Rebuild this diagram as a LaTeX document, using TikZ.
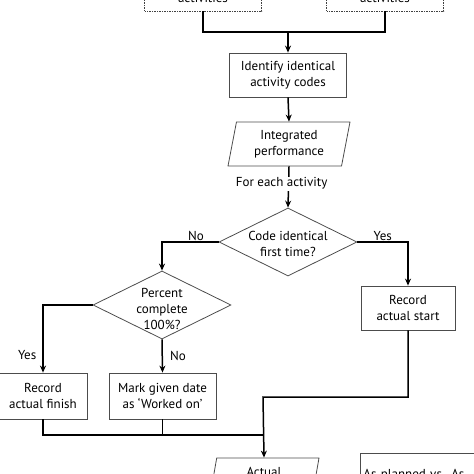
\documentclass[tikz,border=0pt]{standalone}
\usepackage{fontspec}
\setmainfont{PT Sans}
\usetikzlibrary{shapes.geometric,positioning,arrows.meta}

\begin{document}
\begin{tikzpicture}[x=1pt,y=-1pt,
  font=\fontsize{13}{16}\selectfont,
  box/.style={draw=black!70, line width=0.8pt, align=center, inner sep=0pt},
  para/.style={box, trapezium, trapezium left angle=73, trapezium right angle=107,
    trapezium stretches body},
  dpara/.style={para, draw=black!75, dash pattern=on 1.5pt off 1pt},
  dec/.style={box, diamond, minimum width=138pt, minimum height=68pt},
  lbl/.style={inner sep=1pt, align=center},
  arr/.style={line width=1.5pt, -{Stealth[length=7pt,width=6pt]}},
  con/.style={line width=1.5pt}]

\useasboundingbox (0,0) rectangle (474,474);
\clip (0,0) rectangle (474,474);

% inputs (cut by the top margin)
\node [dpara, minimum width=117pt, minimum height=46pt] (plan) at (203,-12) {};
\node [dpara, minimum width=117pt, minimum height=46pt] (built) at (385,-12) {};
\node [lbl, inner sep=0pt, above=9pt of plan.south] {activities};
\node [lbl, inner sep=0pt, above=9pt of built.south] {activities};

\coordinate (merge) at (288,32);

\node [box, minimum width=117pt, minimum height=44pt] (ident) at (288,75)
  {Identify identical\\activity codes};
\node [para, minimum width=122pt, minimum height=44pt] (integ) at (289,144)
  {Integrated\\performance};

% decisions
\node [dec] (code) at (288,242) {};
\node [lbl] (codetxt) at ([yshift=-2pt]code) {Code identical\\first time?};
\node [dec] (pct) at (162,305) {};
\node [lbl] (pcttxt) at ([yshift=-4pt]pct) {Percent\\complete\\100\%?};

\node [box, minimum width=94pt, minimum height=44pt] (start) at (408,308)
  {Record\\actual start};
\node [box, minimum width=88pt, minimum height=46pt] (finish) at (43,396)
  {Record\\actual finish};
\node [box, minimum width=107pt, minimum height=46pt] (mark) at (162.5,396)
  {Mark given date\\as `Worked on'};

\node [para, minimum width=110pt, minimum height=44pt] (actual) at (264,480)
  {Actual\\};
\node [box, anchor=north west, minimum width=130pt, minimum height=44pt,
  text width=124pt, align=left] (asplan) at (360,453) {As planned vs. As};

\coordinate (bend) at (263,397);
\coordinate (join) at (263,435);

% connectors
\draw [con] (plan.south) |- (merge);
\draw [con] (built.south) |- (merge);
\draw [arr] (merge) -- (ident.north);
\draw [arr] (ident.south) -- (integ.north);
\draw [arr] (integ.south) -- node [lbl, fill=white, xshift=-7pt, pos=0.42] {For each activity} (code.north);

\draw [arr] (code.west) -| node [lbl, above, pos=0.2] {No} (pct.north);
\draw [arr] (code.east) -| node [lbl, above, pos=0.25] {Yes} (start.north);
\draw [arr] (pct.west) -| node [lbl, left, pos=0.87, xshift=-5pt] {Yes} (finish.north);
\draw [arr] (pct.south) -- node [lbl, right, xshift=6pt] {No} (mark.north);

\draw [con] (finish.south) |- (join);
\draw [con] (mark.south) -- (mark.south |- join);
\draw [arr] (start.south) |- (bend) -- (actual.north);

\end{tikzpicture}
\end{document}
